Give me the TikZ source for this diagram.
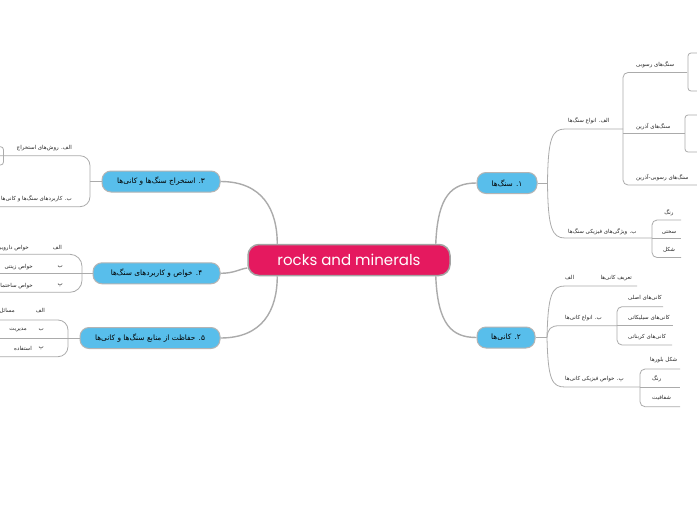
\documentclass[tikz,border=0pt]{standalone}
\usepackage{fontspec}
\usetikzlibrary{backgrounds}
\setmainfont{DejaVu Sans}
\newfontfamily\arabicfont[Script=Arabic]{DejaVu Sans}
\newfontfamily\titlefont{Poppins}
\TeXXeTstate=1
\newcommand\fa[1]{{\arabicfont\beginR #1\endR}}
\definecolor{linegray}{HTML}{ABABAB}
\definecolor{bordergray}{HTML}{B4B4B4}
\definecolor{rootborder}{HTML}{A3A3A3}
\definecolor{topicblue}{HTML}{58BEEB}
\definecolor{rootred}{HTML}{E5195F}
\tikzset{
  root/.style={draw=rootborder, fill=rootred, line width=1.5pt, rounded corners=11pt,
    minimum width=202pt, minimum height=31pt, inner sep=0pt, text=white,
    font=\titlefont\fontsize{15}{17}\selectfont},
  topic/.style={draw=bordergray, fill=topicblue, line width=1pt, rounded corners=9pt,
    minimum height=21pt, inner sep=0pt, text=black,
    font=\fontsize{7.4}{8}\selectfont},
  conn/.style={draw=linegray, line width=1.4pt},
  sub/.style={draw=linegray, line width=0.8pt},
  lbl/.style={inner sep=0pt, text=black!85, font=\fontsize{5.5}{6}\selectfont},
}
\begin{document}
\begin{tikzpicture}[x=1pt,y=-1pt]
\useasboundingbox (0,0) rectangle (697,520);
\clip (0,0) rectangle (697,520);

\node[root] (c) at (349,260) {rocks and minerals};
\node[topic, minimum width=60pt] (n1) at (507,183) {\fa{۱. سنگ‌ها}};
\node[topic, minimum width=58pt] (n2) at (506,337.5) {\fa{۲. کانی‌ها}};
\node[topic, minimum width=118pt] (n3) at (161,181.5) {\fa{۳. استخراج سنگ‌ها و کانی‌ها}};
\node[topic, minimum width=127pt] (n4) at (156.5,273.3) {\fa{۴. خواص و کاربردهای سنگ‌ها}};
\node[topic, minimum width=140pt] (n5) at (150,338) {\fa{۵. حفاظت از منابع سنگ‌ها و کانی‌ها}};

\begin{scope}[on background layer]
\fill[white] (0,0) rectangle (697,520);
\draw[conn] ([xshift=-15pt]c.north east) .. controls +(2,-48) and +(-25,0) .. (n1.west);
\draw[conn] ([xshift=-15pt]c.south east) .. controls +(2,48) and +(-25,0) .. (n2.west);
\draw[conn] (n3.east) .. controls +(42,0) and +(0,-34) .. ([xshift=30pt]c.north west);
\draw[conn] (n4.east) .. controls +(14,0) and +(-8,1) .. ([yshift=-8pt]c.west);
\draw[conn] (n5.east) .. controls +(42,0) and +(0,34) .. ([xshift=30pt]c.south west);
\end{scope}

% ---------- N1 branches ----------
\coordinate (j1) at (547.5,183);
\draw[sub] (n1.east) -- (j1);
\draw[sub] (j1) .. controls (548,138) and (552,129) .. (565,129) -- (623,129);
\draw[sub] (j1) .. controls (548,228) and (552,238) .. (565,238) -- (652,238);
\draw[sub, rounded corners=5pt] (687,72.5) -- (623,72.5) -- (623,185) -- (700,185);
\draw[sub] (623,133.3) -- (685,133.3);
\draw[sub, rounded corners=3pt] (700,53) -- (688,53) -- (688,91) -- (700,91);
\draw[sub, rounded corners=3pt] (700,115) -- (685,115) -- (685,152) -- (700,152);
\draw[sub, rounded corners=5pt] (681,220) -- (652,220) -- (652,257.5) -- (681,257.5);
\draw[sub] (652,238) -- (681,238);

\node[lbl, anchor=west] (lA) at (568,120.5) {\fa{الف. انواع سنگ‌ها}};
\node[lbl, anchor=west] (lA1) at (636,65) {\fa{سنگ‌های رسوبی}};
\node[lbl, anchor=west] (lA2) at (636,127) {\fa{سنگ‌های آذرین}};
\node[lbl, anchor=west] (lA3) at (636,177.5) {\fa{سنگ‌های رسوبی-آذرین}};
\node[lbl, anchor=west] (lB) at (568,231.5) {\fa{ب. ویژگی‌های فیزیکی سنگ‌ها}};
\node[lbl] (lB1) at (669,212.5) {\fa{رنگ}};
\node[lbl] (lB2) at (669,232) {\fa{سختی}};
\node[lbl] (lB3) at (669,250) {\fa{شکل}};

% ---------- N2 branches ----------
\coordinate (j2) at (547,337.5);
\draw[sub] (n2.east) -- (j2);
\draw[sub] (j2) .. controls (548,294) and (552,286) .. (565,286) -- (637,286);
\draw[sub] (j2) .. controls (548,329) and (550,325.7) .. (560,325.7) -- (617,325.7);
\draw[sub] (j2) .. controls (548,380) and (552,387) .. (565,387) -- (640,387);
\draw[sub, rounded corners=5pt] (663,306.7) -- (617,306.7) -- (617,345) -- (672,345);
\draw[sub] (617,325.7) -- (673,325.7);
\draw[sub, rounded corners=5pt] (680,369) -- (640,369) -- (640,406.7) -- (680,406.7);
\draw[sub] (640,387) -- (680,387);

\node[lbl, anchor=west] (lC) at (565,278) {\fa{الف}};
\node[lbl, anchor=east] (lCt) at (632,278) {\fa{تعریف کانی‌ها}};
\node[lbl, anchor=west] (lD) at (565,317.7) {\fa{ب. انواع کانی‌ها}};
\node[lbl, anchor=west] (lD1) at (628,298) {\fa{کانی‌های اصلی}};
\node[lbl, anchor=west] (lD2) at (628,317.7) {\fa{کانی‌های سیلیکاتی}};
\node[lbl, anchor=west] (lD3) at (628,336.7) {\fa{کانی‌های کربناتی}};
\node[lbl, anchor=west] (lE) at (565,379) {\fa{پ. خواص فیزیکی کانی‌ها}};
\node[lbl, anchor=west] (lE1) at (650,360) {\fa{شکل بلورها}};
\node[lbl, anchor=west] (lE2) at (652,379) {\fa{رنگ}};
\node[lbl, anchor=west] (lE3) at (652,397.7) {\fa{شفافیت}};

% ---------- N3 branches ----------
\coordinate (j3) at (90,181.5);
\draw[sub] (n3.west) -- (j3);
\draw[sub, rounded corners=10pt] (-5,155.7) -- (90,155.7) -- (90,206.7) -- (-5,206.7);
\draw[sub, rounded corners=3pt] (-5,146.7) -- (3.5,146.7) -- (3.5,165) -- (-5,165);
\node[lbl, anchor=east] (lF) at (72,148.3) {\fa{الف. روش‌های استخراج}};
\node[lbl, anchor=east] (lG) at (72,198.3) {\fa{ب. کاربردهای سنگ‌ها و کانی‌ها}};

% ---------- N4 branches ----------
\draw[sub, rounded corners=12pt] (-5,254.3) -- (82,254.3) -- (82,292.3) -- (-5,292.3);
\coordinate (j4) at (-5,273.3);
\draw[sub] (n4.west) -- (j4);
\node[lbl, anchor=east] (lH) at (62,247.7) {\fa{الف}};
\node[lbl, anchor=east] (lHt) at (29,247.7) {\fa{خواص دارویی}};
\node[lbl, anchor=east] (lI) at (63,267.3) {\fa{ب}};
\node[lbl, anchor=east] (lIt) at (33,267.3) {\fa{خواص زینتی}};
\node[lbl, anchor=east] (lJ) at (63,285.7) {\fa{پ}};
\node[lbl, anchor=east] (lJt) at (33,285.7) {\fa{خواص ساختمانی}};

% ---------- N5 branches ----------
\draw[sub, rounded corners=10pt] (-5,320) -- (68,320) -- (68,356.7) -- (-5,356.7);
\coordinate (j5) at (-5,338);
\draw[sub] (n5.west) -- (j5);
\node[lbl, anchor=east] (lK) at (45,311) {\fa{الف}};
\node[lbl, anchor=east] (lKt) at (15,311) {\fa{مسائل}};
\node[lbl, anchor=east] (lL) at (44,330) {\fa{ب}};
\node[lbl, anchor=east] (lLt) at (27,330) {\fa{مدیریت}};
\node[lbl, anchor=east] (lM) at (44,348.3) {\fa{پ}};
\node[lbl, anchor=east] (lMt) at (32,348.3) {\fa{استفاده}};
\end{tikzpicture}
\end{document}
